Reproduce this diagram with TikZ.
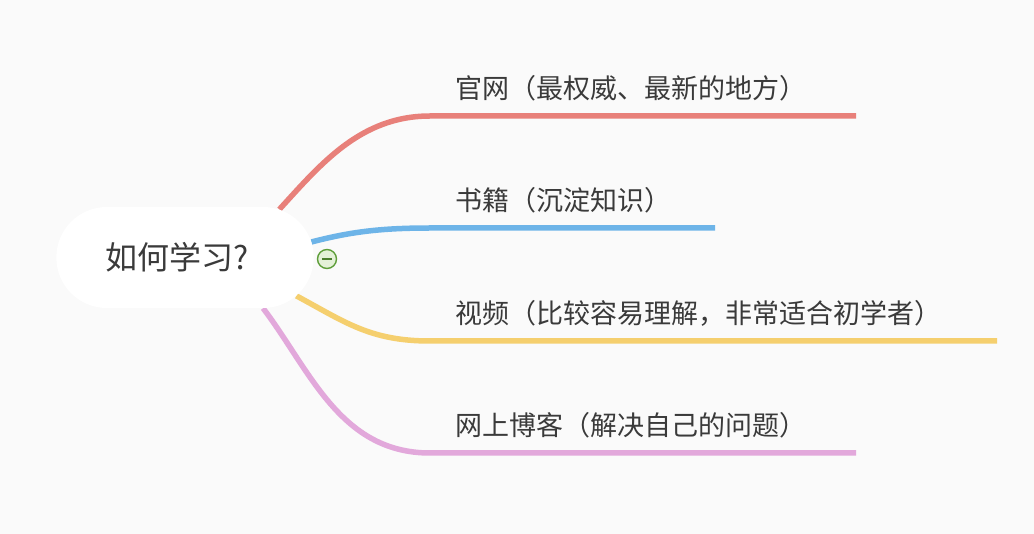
\documentclass[tikz,border=0pt]{standalone}
\usepackage{fontspec}
\usetikzlibrary{shapes.misc}
\newfontfamily\cjk{Noto Sans CJK SC}
\definecolor{canvas}{HTML}{FAFAFA}
\definecolor{txtgray}{HTML}{3A3A3A}
\definecolor{webred}{HTML}{E8807A}
\definecolor{bookblue}{HTML}{6DB4E8}
\definecolor{videoyellow}{HTML}{F5CF6E}
\definecolor{blogpink}{HTML}{E2A8DB}
\definecolor{foldgreen}{HTML}{5E9E3A}
\definecolor{foldfill}{HTML}{E4F1D8}
\pgfdeclarelayer{background}
\pgfsetlayers{background,main}
\tikzset{
  topic/.style={inner sep=0pt, anchor=west, text=txtgray, font=\cjk\fontsize{27}{32}\selectfont},
  branch/.style={line width=5.5pt},
}
\begin{document}
\begin{tikzpicture}[x=1pt,y=-1pt]
\begin{pgfonlayer}{background}
\fill[canvas] (0,0) rectangle (1034,534);
\end{pgfonlayer}

\node[name=root, rounded rectangle, fill=white, minimum width=264pt, minimum height=101pt, text=txtgray, font=\cjk\fontsize{32}{38}\selectfont] at (185,257.5) {\hspace*{-16pt}如何学习?};
\node[name=fold, circle, minimum size=19pt, inner sep=0pt, fill=foldfill, draw=foldgreen, line width=1.4pt,
  path picture={\draw[foldgreen!80!black, line width=1.6pt] ([xshift=-5pt]path picture bounding box.center) -- ([xshift=5pt]path picture bounding box.center);}] at (327,259) {};

\node[name=web, topic] at (455,88) {官网（最权威、最新的地方）};
\node[name=book, topic] at (455,200) {书籍（沉淀知识）};
\node[name=video, topic] at (455,313) {视频（比较容易理解，非常适合初学者）};
\node[name=blog, topic] at (455,425) {网上博客（解决自己的问题）};

\coordinate (web_bend) at (430,116);
\coordinate (web_end) at (856,116);
\coordinate (book_bend) at (430,228);
\coordinate (book_end) at (715,228);
\coordinate (video_bend) at (430,341);
\coordinate (video_end) at (997,341);
\coordinate (blog_bend) at (430,453);
\coordinate (blog_end) at (856,453);

\begin{pgfonlayer}{background}
\draw[branch, webred] (root.27) .. controls (320,165) and (360,116) .. (web_bend) -- (web_end);
\draw[branch, bookblue] (root.7) .. controls (350,232) and (380,228) .. (book_bend) -- (book_end);
\draw[branch, videoyellow] (root.-19) .. controls (345,322) and (370,341) .. (video_bend) -- (video_end);
\draw[branch, blogpink] (root.-33) .. controls (310,370) and (340,453) .. (blog_bend) -- (blog_end);
\end{pgfonlayer}
\end{tikzpicture}
\end{document}
